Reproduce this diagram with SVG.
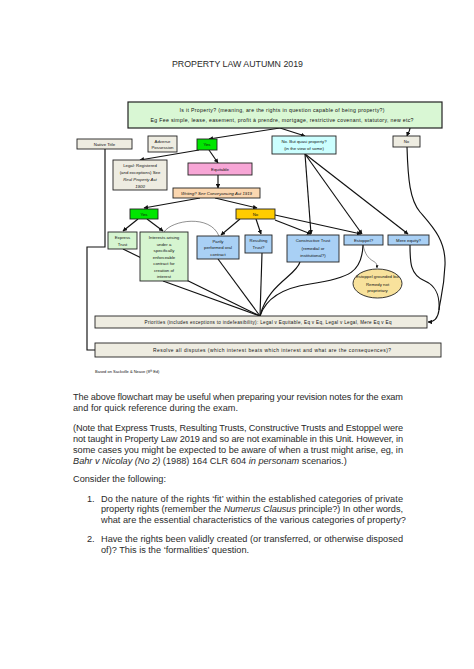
<svg xmlns="http://www.w3.org/2000/svg" width="474" height="669" viewBox="0 0 474 669">
<defs>
<marker id="ah" viewBox="0 0 10 10" refX="9" refY="5" markerWidth="4.5" markerHeight="4.5" markerUnits="userSpaceOnUse" orient="auto"><path d="M0,0 L10,5 L0,10 z" fill="#111"/></marker>
<marker id="ahs" viewBox="0 0 10 10" refX="9" refY="5" markerWidth="3" markerHeight="3" markerUnits="userSpaceOnUse" orient="auto"><path d="M0,0 L10,5 L0,10 z" fill="#111"/></marker>
</defs>
<style>
.b{stroke:#222;stroke-width:0.9}
.t{font-family:"Liberation Sans",Arial,sans-serif;font-size:4.3px;fill:#111;text-anchor:middle}
.i{font-style:italic}
.c{fill:none;stroke:#111;stroke-width:1.15}
.cs{fill:none;stroke:#222;stroke-width:0.5}
.body{font-family:"Liberation Sans",Arial,sans-serif;font-size:9.2px;fill:#2a2a2a}
.gray{fill:#eeece1}
.lg{fill:#d6f5d0}
.lb{fill:#a9d0f5}
</style>
<rect width="474" height="669" fill="#ffffff"/>
<text x="237.5" y="67" class="body" style="font-size:9px" text-anchor="middle" textLength="131" lengthAdjust="spacingAndGlyphs">PROPERTY LAW AUTUMN 2019</text>

<g id="connectors">
<path class="c" d="M280,128 L209,139" marker-end="url(#ah)"/>
<path class="c" d="M280,128 L305,136" marker-end="url(#ah)"/>
<path class="c" d="M410,128 C410,131 408,133 407,136" marker-end="url(#ah)"/>
<path class="c" d="M199,150 L140,160" marker-end="url(#ah)"/>
<path class="c" d="M209,150 L218,163" marker-end="url(#ah)"/>
<path class="c" d="M218,175 L218,188" marker-end="url(#ah)"/>
<path class="c" d="M200,198 L144,208" marker-end="url(#ah)"/>
<path class="c" d="M215,198 L257,208" marker-end="url(#ah)"/>
<path class="c" d="M138,219 L123,231" marker-end="url(#ah)"/>
<path class="c" d="M147,219 L163,231" marker-end="url(#ah)"/>
<path class="cs" d="M164,232 C172,220 210,214 219,236"/>
<path class="c" d="M240,219 L221,235" marker-end="url(#ah)"/>
<path class="c" d="M256,219 L261,234" marker-end="url(#ah)"/>
<path class="c" d="M275,220 L311,234" marker-end="url(#ah)"/>
<path class="c" d="M275,215 L361,234" marker-end="url(#ah)"/>
<path class="c" d="M305,154 L311,234" marker-end="url(#ah)"/>
<path class="c" d="M305,154 L362,234" marker-end="url(#ah)"/>
<path class="c" d="M305,154 L408,234" marker-end="url(#ah)"/>
<path class="cs" d="M363,245 C365,254 368,258 373,261 C377,263 377,265 377,268" marker-end="url(#ahs)"/>
<path class="c" d="M123,249 L260,316"/>
<path class="c" d="M163,281 L260,316"/>
<path class="c" d="M218,259 L260,316"/>
<path class="c" d="M262,253 L260,316"/>
<path class="c" d="M300,262 C296,276 268,284 260,316"/>
<path class="c" d="M363,245 C362,272 350,278 310,284 C282,288 266,298 260,316"/>
<path class="c" d="M407,147 C408,180 410,200 420,212 C432,226 446,240 445,265 C444,290 440,300 439,310 C438,318 434,322 428,322" marker-end="url(#ah)"/>
<path class="c" d="M410,245 C410,262 410,275 425,281 C436,286 440,295 439,310"/>
<path class="c" d="M105,149 L105,247 L87,247 L87,350 L95,350"/>
</g>

<g id="n-property">
<rect x="128" y="102" width="314" height="26" fill="#d9f7d4" stroke="#222" stroke-width="1.2"/>
<text x="282" y="112.3" class="t" style="font-size:5.2px" textLength="205">Is it Property? (meaning, are the rights in question capable of being property?)</text>
<text x="282" y="122.3" class="t" style="font-size:5.2px" textLength="263">Eg Fee simple, lease, easement, profit à prendre, mortgage, restrictive covenant, statutory, new etc?</text>
</g>
<g id="n-native">
<rect x="77" y="139" width="55" height="10" class="b gray"/>
<text x="104.5" y="145.6" class="t">Native Title</text>
</g>
<g id="n-adverse">
<rect x="148" y="136" width="29" height="16" class="b gray"/>
<text x="162.5" y="142.8" class="t">Adverse</text>
<text x="162.5" y="149" class="t">Possession</text>
</g>
<g id="n-yes1">
<rect x="197" y="139" width="20" height="11" class="b" fill="#00e600"/>
<text x="207" y="146" class="t">Yes</text>
</g>
<g id="n-quasi">
<rect x="272" y="136" width="64" height="18" class="b" fill="#ccffff"/>
<text x="304" y="143.3" class="t">No. But quasi property?</text>
<text x="304" y="150" class="t">(in the view of some)</text>
</g>
<g id="n-no1">
<rect x="393" y="136" width="27" height="11" class="b gray"/>
<text x="406.5" y="143.2" class="t">No</text>
</g>
<g id="n-legal">
<rect x="113" y="160" width="54" height="30" class="b gray"/>
<text x="140" y="167" class="t">Legal: Registered</text>
<text x="140" y="174" class="t">(and exceptions) See</text>
<text x="140" y="181" class="t i">Real Property Act</text>
<text x="140" y="188" class="t i">1900</text>
</g>
<g id="n-equitable">
<rect x="188" y="163" width="64" height="12" class="b" fill="#f7a6d6"/>
<text x="220" y="170.6" class="t">Equitable</text>
</g>
<g id="n-writing">
<rect x="173" y="188" width="87" height="10" class="b" fill="#fbd7b0"/>
<text x="216.5" y="194.6" class="t i">Writing? See Conveyancing Act 1919</text>
</g>
<g id="n-yes2">
<rect x="130" y="209" width="28" height="10" class="b" fill="#00e600"/>
<text x="144" y="215.6" class="t">Yes</text>
</g>
<g id="n-no2">
<rect x="236" y="209" width="39" height="10" class="b" fill="#ffcc00"/>
<text x="255.5" y="215.6" class="t">No</text>
</g>
<g id="n-express">
<rect x="108" y="232" width="29" height="17" class="b lg"/>
<text x="122.5" y="239" class="t">Express</text>
<text x="122.5" y="245.5" class="t">Trust</text>
</g>
<g id="n-interests">
<rect x="140" y="232" width="48" height="49" class="b lg"/>
<text x="164" y="239" class="t">Interests arising</text>
<text x="164" y="245.5" class="t">under a</text>
<text x="164" y="252" class="t">specifically</text>
<text x="164" y="258.5" class="t">enforceable</text>
<text x="164" y="265" class="t">contract for</text>
<text x="164" y="271.5" class="t">creation of</text>
<text x="164" y="277.5" class="t">interest</text>
</g>
<g id="n-partly">
<rect x="197" y="236" width="42" height="23" class="b lb"/>
<text x="218" y="243" class="t">Partly</text>
<text x="218" y="249.3" class="t">performed oral</text>
<text x="218" y="255.6" class="t">contract</text>
</g>
<g id="n-resulting">
<rect x="245" y="235" width="27" height="18" class="b lb"/>
<text x="258.5" y="242.3" class="t">Resulting</text>
<text x="258.5" y="249" class="t">Trust?</text>
</g>
<g id="n-constructive">
<rect x="287" y="235" width="52" height="27" class="b lb"/>
<text x="313" y="241.5" class="t">Constructive Trust</text>
<text x="313" y="249.5" class="t">(remedial or</text>
<text x="313" y="257" class="t">institutional?)</text>
</g>
<g id="n-estoppel">
<rect x="344" y="235" width="39" height="10" class="b lb"/>
<text x="363.5" y="241.7" class="t">Estoppel?</text>
</g>
<g id="n-mere">
<rect x="388" y="235" width="41" height="10" class="b lb"/>
<text x="408.5" y="241.7" class="t">Mere equity?</text>
</g>
<g id="n-estoppel-remedy">
<ellipse cx="377.5" cy="283.5" rx="24.5" ry="14.5" class="b" fill="#f8e29c"/>
<text x="377.5" y="278.3" class="t">Estoppel grounded but</text>
<text x="377.5" y="285.5" class="t">Remedy not</text>
<text x="377.5" y="292.2" class="t">proprietary</text>
</g>
<g id="n-priorities">
<rect x="95" y="316" width="332" height="12" class="b gray"/>
<text x="268" y="323.6" class="t" style="font-size:4.6px" textLength="247">Priorities (includes exceptions to indefeasibility): Legal v Equitable, Eq v Eq, Legal v Legal, Mere Eq v Eq</text>
</g>
<g id="n-resolve">
<rect x="95" y="343" width="346" height="14" class="b gray"/>
<text x="272" y="351.8" class="t" style="font-size:4.9px" textLength="238">Resolve all disputes (which interest beats which interest and what are the consequences)?</text>
</g>
<text x="95" y="372.5" class="t" style="text-anchor:start;font-size:4px">Based on Sackville &amp; Neave (8<tspan baseline-shift="super" font-size="2.6px">th</tspan> Ed)</text>

<g id="body-text">
<text x="73" y="399.5" class="body" textLength="330" lengthAdjust="spacing">The above flowchart may be useful when preparing your revision notes for the exam</text>
<text x="73" y="411" class="body">and for quick reference during the exam.</text>
<text x="73" y="430.5" class="body" textLength="330" lengthAdjust="spacing">(Note that Express Trusts, Resulting Trusts, Constructive Trusts and Estoppel were</text>
<text x="73" y="441.5" class="body" textLength="330" lengthAdjust="spacing">not taught in Property Law 2019 and so are not examinable in this Unit. However, in</text>
<text x="73" y="452.5" class="body" textLength="330" lengthAdjust="spacing">some cases you might be expected to be aware of when a trust might arise, eg, in</text>
<text x="73" y="463.5" class="body"><tspan class="i">Bahr v Nicolay (No 2)</tspan> (1988) 164 CLR 604 <tspan class="i">in personam</tspan> scenarios.)</text>
<text x="73" y="482" class="body">Consider the following:</text>
<text x="87" y="501.5" class="body">1.</text>
<text x="101" y="501.5" class="body" textLength="302" lengthAdjust="spacing">Do the nature of the rights ‘fit’ within the established categories of private</text>
<text x="101" y="512" class="body" textLength="302" lengthAdjust="spacing">property rights (remember the <tspan class="i">Numerus Clausus</tspan> principle?) In other words,</text>
<text x="101" y="522.5" class="body">what are the essential characteristics of the various categories of property?</text>
<text x="87" y="542" class="body">2.</text>
<text x="101" y="542" class="body" textLength="302" lengthAdjust="spacing">Have the rights been validly created (or transferred, or otherwise disposed</text>
<text x="101" y="552.5" class="body">of)? This is the ‘formalities’ question.</text>
</g>
</svg>
